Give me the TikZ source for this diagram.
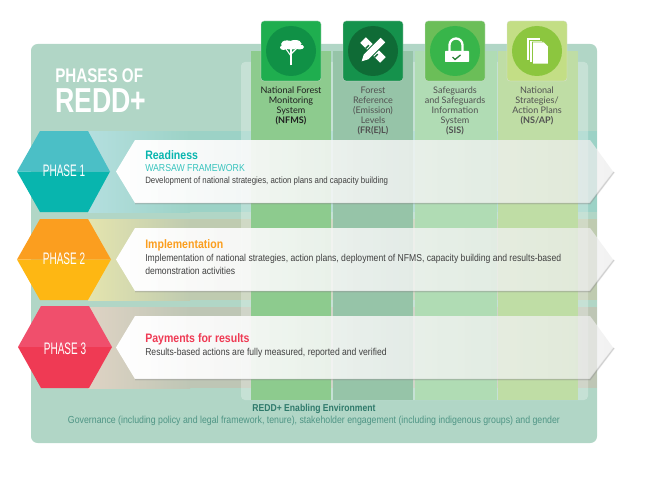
\documentclass[tikz,border=0pt]{standalone}
\usepackage{fontspec}
\setmainfont{Liberation Sans}
\newfontfamily\narrowfont[FakeStretch=.86]{Liberation Sans}
\newfontfamily\titlefont[FakeStretch=.77]{Liberation Sans}
\newfontfamily\slimfont[FakeStretch=.6]{Liberation Sans}
\newfontfamily\tilefont{Lato}
\usetikzlibrary{positioning,fadings}
\definecolor{panelgreen}{HTML}{B1D6C6}
\definecolor{bandteal}{HTML}{9CD2C6}
\definecolor{bandamber}{HTML}{BFCBB0}
\definecolor{bandrose}{HTML}{BEC6B5}
\definecolor{tealstart}{HTML}{B4DFDF}
\definecolor{amberstart}{HTML}{E4E4AE}
\definecolor{rosestart}{HTML}{DFD3C4}
\definecolor{colnfms}{HTML}{8DCB8E}
\definecolor{colfrel}{HTML}{96C4A8}
\definecolor{colsis}{HTML}{B0DCB4}
\definecolor{colnsap}{HTML}{BFDDA5}
\definecolor{tilenfms}{HTML}{1FAE4F}
\definecolor{tilefrel}{HTML}{15924C}
\definecolor{tilesis}{HTML}{6BBE58}
\definecolor{tilensap}{HTML}{C3DE85}
\definecolor{discnfms}{HTML}{109146}
\definecolor{discfrel}{HTML}{0F6B36}
\definecolor{discsis}{HTML}{38B54A}
\definecolor{discnsap}{HTML}{8CC63F}
\definecolor{tealtop}{HTML}{4BBFC6}
\definecolor{tealbot}{HTML}{08B5AE}
\definecolor{ambertop}{HTML}{FB9E1F}
\definecolor{amberbot}{HTML}{FEB713}
\definecolor{rosetop}{HTML}{F04F6C}
\definecolor{rosebot}{HTML}{EF3A54}
\definecolor{enablehead}{HTML}{2F7A6B}
\definecolor{enabletext}{HTML}{4F9585}
\tikzfading[name=arrowfade, left color=transparent!0, middle color=transparent!3, right color=transparent!30]
\tikzset{
    tile/.style={rounded corners=2.2pt, minimum size=45pt, inner sep=0pt, draw=black!12, line width=.2pt},
    disc/.style={circle, minimum size=37.5pt, inner sep=0pt},
    tilelabel/.style={font=\tilefont\fontsize{6.8}{7.5}\selectfont, align=center, inner sep=0pt, text=black!68},
    hextext/.style={font=\slimfont\fontsize{12.5}{13}\selectfont, text=white, inner sep=0pt},
    arrowbody/.style={left color=white, right color=black!7, path fading=arrowfade},
    arrowedge/.style={draw=black!50, opacity=.28, line width=.7pt, preaction={draw=black!50, opacity=.14, line width=1.5pt}},
    heading/.style={font=\narrowfont\bfseries\fontsize{9.2}{10}\selectfont, anchor=west, inner sep=0pt},
    bodytext/.style={font=\narrowfont\fontsize{7.5}{9.4}\selectfont, anchor=west, align=left, inner sep=0pt, text=black!75},
    icon/.style={fill=white, draw=none}
}
\begin{document}
\begin{tikzpicture}[x=.75pt, y=-.75pt]
    \useasboundingbox (0,0) rectangle (650,485);

    % panel and bands
    \fill[panelgreen, rounded corners=5pt] (31,44) rectangle (597,443);
    \shade[left color=tealstart, right color=bandteal] (88,131) rectangle (190,212);
    \fill[bandteal] (190,131) rectangle (597,212);
    \shade[left color=amberstart, right color=bandamber] (88,219) rectangle (190,300);
    \fill[bandamber] (190,219) rectangle (597,300);
    \shade[left color=rosestart, right color=bandrose] (88,307) rectangle (190,388);
    \fill[bandrose] (190,307) rectangle (597,388);
    \fill[white, opacity=.28, rounded corners=3pt] (241,62) rectangle (588,400);

    % columns
    \fill[colnfms] (251,51) rectangle (331,400);
    \fill[colfrel] (333,51) rectangle (413,400);
    \fill[colsis] (415,51) rectangle (497,400);
    \fill[colnsap] (498,51) rectangle (578,400);

    % tiles
    \node[tile, fill=tilenfms]  (tile1) at (291,51) {};
    \node[tile, fill=tilefrel]  (tile2) at (373,51) {};
    \node[tile, fill=tilesis]   (tile3) at (455,51) {};
    \node[tile, fill=tilensap]  (tile4) at (537,51) {};
    \node[disc, fill=discnfms]  (disc1) at (tile1) {};
    \node[disc, fill=discfrel]  (disc2) at (tile2) {};
    \node[disc, fill=discsis]   (disc3) at (tile3) {};
    \node[disc, fill=discnsap]  (disc4) at (tile4) {};

    % icons
    \draw[white, line width=1.5pt] (291,65.5) -- (291,48);
    \draw[white, line width=.8pt] (291,56) -- (286,49) (291,54) -- (297,48);
    \fill[icon] (287,44) ellipse (6 and 3.6) (295,43.5) ellipse (6.5 and 3.5) (299.5,47) ellipse (4.5 and 2.5) (283.5,47.5) ellipse (3.5 and 2.5) (291,47) ellipse (6 and 2.5);
    \begin{scope}[shift={(373,50)}, rotate=-45]
        \fill[icon] (-14,-4) rectangle (14,4);
        \fill[discfrel] (-7,-.5) rectangle (-5.5,4) (5.5,-.5) rectangle (7,4);
    \end{scope}
    \begin{scope}[shift={(373,50)}, rotate=45]
        \fill[discfrel] (-15,-4.4) rectangle (14,4.4);
        \fill[icon] (-16,0) -- (-10,-3.2) -- (14,-3.2) -- (14,3.2) -- (-10,3.2) -- cycle;
    \end{scope}
    \draw[white, line width=1.7pt] (449.5,52) -- (449.5,45) arc (180:360:6.5 and 6.5) -- (462.5,52);
    \fill[icon, rounded corners=.4pt] (445,51) rectangle (469,62);
    \draw[discsis!70!black, line width=1pt] (452.5,57) -- (455,59.5) -- (460.5,55);
    \fill[icon] (527,38) rectangle (540,60);
    \draw[fill=white, draw=discnsap, line width=.4pt] (529.5,40) rectangle (542,62);
    \draw[fill=white, draw=discnsap, line width=.4pt] (532.5,42) -- (544,42) -- (548.5,46.5) -- (548.5,64) -- (532.5,64) -- cycle;

    % tile labels
    \node[tilelabel, text=black!88, below=4.2pt of tile1] (nfms) {National Forest\\Monitoring\\System\\\textbf{(NFMS)}};
    \node[tilelabel, below=4.2pt of tile2] (frel) {Forest\\Reference\\(Emission)\\Levels\\\textbf{(FR(E)L)}};
    \node[tilelabel, below=4.2pt of tile3] (sis) {Safeguards\\and Safeguards\\Information\\System\\\textbf{(SIS)}};
    \node[tilelabel, below=4.2pt of tile4] (nsap) {National\\Strategies/\\Action Plans\\\textbf{(NS/AP)}};

    % title
    \node[font=\titlefont\bfseries\fontsize{14.8}{15}\selectfont, text=white, anchor=west, inner sep=0pt] (phases) at (55,76) {PHASES OF};
    \node[font=\titlefont\bfseries\fontsize{26}{27}\selectfont, text=white, anchor=west, inner sep=0pt] (redd) at (55,101) {REDD+};

    % arrows
    \path[arrowbody] (116,171.5) -- (135,140) -- (590,140) -- (613,171.5) -- (590,203) -- (135,203) -- cycle;
    \draw[arrowedge] (135,203.5) -- (590,203.5) -- (614,172);
    \path[arrowbody] (116,259.5) -- (135,228) -- (590,228) -- (613,259.5) -- (590,291) -- (135,291) -- cycle;
    \draw[arrowedge] (135,291.5) -- (590,291.5) -- (614,260);
    \path[arrowbody] (116,347.5) -- (135,316) -- (590,316) -- (613,347.5) -- (590,379) -- (135,379) -- cycle;
    \draw[arrowedge] (135,379.5) -- (590,379.5) -- (614,348);

    % hexagons
    \fill[tealtop] (17,171.5) -- (40,131) -- (88,131) -- (110,171.5) -- cycle;
    \fill[tealbot] (17,171.5) -- (40,212) -- (88,212) -- (110,171.5) -- cycle;
    \fill[ambertop] (17,259.5) -- (40,219) -- (88,219) -- (111,259.5) -- cycle;
    \fill[amberbot] (17,259.5) -- (40,300) -- (88,300) -- (111,259.5) -- cycle;
    \fill[rosetop] (18,347) -- (41,306) -- (89,306) -- (112,347) -- cycle;
    \fill[rosebot] (18,347) -- (41,388) -- (89,388) -- (112,347) -- cycle;
    \node[hextext] (phase1) at (64,171) {PHASE 1};
    \node[hextext] (phase2) at (64,258.5) {PHASE 2};
    \node[hextext] (phase3) at (65,349) {PHASE 3};

    % arrow texts
    \node[heading, text=tealbot] (readiness) at (145,155.5) {Readiness};
    \node[bodytext, font=\narrowfont\fontsize{7.6}{9}\selectfont, text=tealbot!80!white] (warsaw) at (145,168) {WARSAW FRAMEWORK};
    \node[bodytext, font=\narrowfont\fontsize{6.85}{9}\selectfont] (readydesc) at (145,181) {Development of national strategies, action plans and capacity building};
    \node[heading, text=ambertop] (impl) at (145,245) {Implementation};
    \node[bodytext] (impldesc) at (145,264.5) {Implementation of national strategies, action plans, deployment of NFMS, capacity building and results-based\\demonstration activities};
    \node[heading, text=rosebot] (payments) at (145,339) {Payments for results};
    \node[bodytext] (paydesc) at (145,352.5) {Results-based actions are fully measured, reported and verified};

    % enabling environment
    \node[font=\narrowfont\bfseries\fontsize{7.5}{8}\selectfont, text=enablehead, inner sep=0pt] (enabling) at (314,409) {REDD+ Enabling Environment};
    \node[font=\narrowfont\fontsize{7.65}{8}\selectfont, text=enabletext, inner sep=0pt] (governance) at (314,421) {Governance (including policy and legal framework, tenure), stakeholder engagement (including indigenous groups) and gender};
\end{tikzpicture}
\end{document}
